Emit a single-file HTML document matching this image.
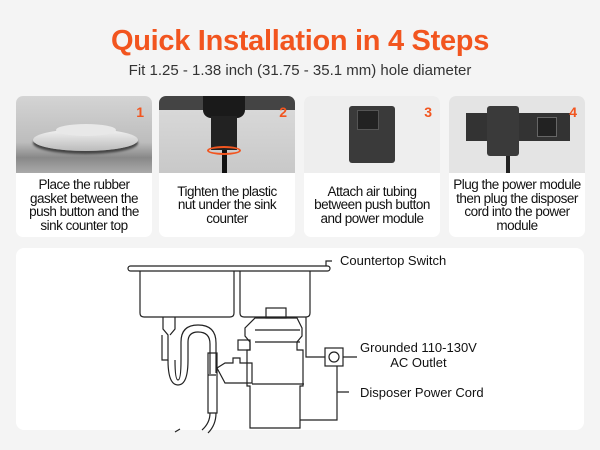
<!DOCTYPE html>
<html><head><meta charset="utf-8"><style>
*{margin:0;padding:0;box-sizing:border-box}
body{width:600px;height:450px;background:#f4f4f4;font-family:"Liberation Sans",sans-serif;position:relative;overflow:hidden}
.t{position:absolute;left:0;width:600px;text-align:center;color:#f2551f;font-weight:bold;font-size:29px;top:25px;letter-spacing:-0.3px}
.s{position:absolute;left:0;width:600px;text-align:center;color:#333;font-size:15px;top:62px}
.c{position:absolute;top:96px;width:136px;height:141px;background:#fff;border-radius:7px;overflow:hidden}
.im{position:absolute;left:0;top:0;width:100%;height:77px}
.n{position:absolute;right:8px;top:8px;color:#f2551f;font-weight:bold;font-size:14px}
.tx{position:absolute;left:0;right:0;top:77px;bottom:0;display:flex;align-items:center;justify-content:center;text-align:center;font-size:13.5px;line-height:13.5px;color:#111;letter-spacing:-0.5px}
.p{position:absolute;left:16px;top:248px;width:568px;height:182px;background:#fff;border-radius:8px}
.l{position:absolute;font-size:13px;color:#111}
</style></head><body>
<div class="t">Quick Installation in 4 Steps</div>
<div class="s">Fit 1.25 - 1.38 inch (31.75 - 35.1 mm) hole diameter</div>

<div class="c" style="left:16px">
 <div class="im" style="background:linear-gradient(#d4d4d4,#bdbdbd 60%,#888 80%,#aaa)">
  <div style="position:absolute;left:17px;top:33px;width:105px;height:22px;border-radius:50%;background:linear-gradient(#f2f2f2,#bbb);box-shadow:0 3px 2px #444"></div>
  <div style="position:absolute;left:40px;top:28px;width:60px;height:12px;border-radius:50%;background:#e8e8e8"></div>
 </div><div class="n">1</div>
 <div class="tx">Place the rubber<br>gasket between the<br>push button and the<br>sink counter top</div>
</div>
<div class="c" style="left:159px">
 <div class="im" style="background:linear-gradient(#444 0,#444 14px,#d8d8d8 14px,#c8c8c8)">
  <div style="position:absolute;left:44px;top:0;width:42px;height:22px;background:#1a1a1a;border-radius:0 0 8px 8px"></div>
  <div style="position:absolute;left:52px;top:20px;width:26px;height:34px;background:#222"></div>
  <div style="position:absolute;left:63px;top:54px;width:5px;height:23px;background:#111"></div>
  <div style="position:absolute;left:48px;top:50px;width:34px;height:9px;border:2px solid #f2551f;border-radius:50%"></div>
 </div><div class="n">2</div>
 <div class="tx">Tighten the plastic<br>nut under the sink<br>counter</div>
</div>
<div class="c" style="left:304px">
 <div class="im" style="background:#eeeeee">
  <div style="position:absolute;left:45px;top:10px;width:46px;height:57px;background:#3a3a3a;border-radius:3px"></div>
  <div style="position:absolute;left:53px;top:14px;width:22px;height:20px;background:#222;border:1px solid #555"></div>
 </div><div class="n">3</div>
 <div class="tx">Attach air tubing<br>between push button<br>and power module</div>
</div>
<div class="c" style="left:449px">
 <div class="im" style="background:#e4e4e4">
  <div style="position:absolute;left:17px;top:17px;width:104px;height:28px;background:#333"></div>
  <div style="position:absolute;left:88px;top:21px;width:20px;height:20px;background:#222;border:1px solid #666"></div>
  <div style="position:absolute;left:38px;top:10px;width:32px;height:50px;background:#3a3a3a;border-radius:3px"></div>
  <div style="position:absolute;left:57px;top:60px;width:4px;height:17px;background:#222"></div>
 </div><div class="n">4</div>
 <div class="tx">Plug the power module<br>then plug the disposer<br>cord into  the power<br>module</div>
</div>

<div class="p"></div>
<svg style="position:absolute;left:0;top:0" width="600" height="450" fill="none" stroke="#222" stroke-width="1.2">
 <rect x="128" y="266" width="202" height="5" rx="2.5"/>
 <path d="M326 266 v-5 h6"/>
 <path d="M140 271 v42 q0 4 4 4 h86 q4 0 4 -4 v-42"/>
 <path d="M240 271 v42 q0 4 4 4 h62 q4 0 4 -4 v-42"/>
 <path d="M306 317 v40 h19 M343 357 h14"/>
 <rect x="325" y="348" width="18" height="18"/><circle cx="334" cy="357" r="5"/>
 <path d="M337 366 v54 h-37 M337 392 h12"/>
 <rect x="266" y="308" width="20" height="10"/>
 <path d="M255 318 h42 l5 10 v8 l-5 6 v8 h6 v36 h-3 v42 h-50 v-42 h-3 v-36 h3 v-8 l-5 -6 v-8 z"/>
 <path d="M252 384 h52 M255 330 h45 M255 342 h45"/>
 <rect x="238" y="340" width="12" height="10"/>
 <path d="M163 317 v12 l5 6 v25 h-6 v-25 M175 317 v12 l-5 6"/>
 <path d="M168 360 q0 25 10 25 q10 0 10 -25 v-18 q0 -10 10 -10 q12 0 12 12 v30 M175 360 q0 20 3 20 q3 0 3 -20 v-18 q0 -17 17 -17 q18 0 18 18 v30"/>
 <path d="M208 353 h9 v60 h-9 z M208 375 h8"/>
 <path d="M217 368 l8 -5 h8 v-5 h7 v5 h12 v20 h-27 z"/>
 <path d="M210 413 q0 10 -8 17 M216 413 q0 12 -8 20 M175 432 l5 -3"/>
</svg>
<div class="l" style="left:340px;top:253px">Countertop Switch</div>
<div class="l" style="left:360px;top:340px;text-align:center;line-height:15px">Grounded 110-130V<br>AC Outlet</div>
<div class="l" style="left:360px;top:385px">Disposer Power Cord</div>
</body></html>
